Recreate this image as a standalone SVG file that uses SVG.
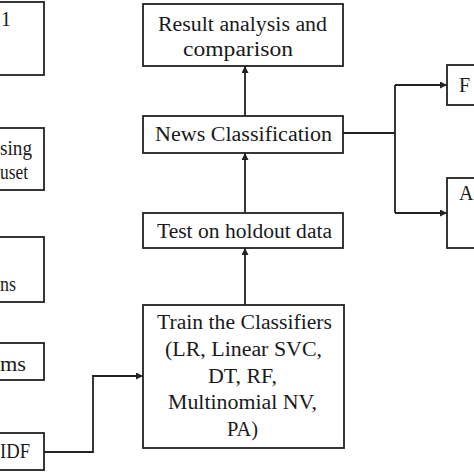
<svg xmlns="http://www.w3.org/2000/svg" width="474" height="474" viewBox="0 0 474 474">
<style>
.box{fill:#fff;stroke:#222;stroke-width:1.8}
.t{font-family:"Liberation Serif","Times New Roman",serif;font-size:20px;fill:#1a1a1a}
.ln{fill:none;stroke:#222;stroke-width:1.8}
</style>
<defs>
<marker id="ah" viewBox="0 0 10 10" refX="10" refY="5" markerWidth="8" markerHeight="7" markerUnits="userSpaceOnUse" orient="auto">
<path d="M0,0 L10,5 L0,10 z" fill="#222"/>
</marker>
</defs>
<rect width="474" height="474" fill="#fff"/>
<g id="left1"><rect class="box" x="-10" y="2" width="54" height="73"/><text class="t" x="1" y="26">1</text></g>
<g id="left2"><rect class="box" x="-10" y="128" width="54" height="62"/><text class="t" x="0" y="155" textLength="32" lengthAdjust="spacingAndGlyphs">sing</text><text class="t" x="0" y="179" textLength="28" lengthAdjust="spacingAndGlyphs">uset</text></g>
<g id="left3"><rect class="box" x="-10" y="237" width="54" height="65"/><text class="t" x="0" y="291" textLength="16" lengthAdjust="spacingAndGlyphs">ns</text></g>
<g id="left4"><rect class="box" x="-10" y="343" width="54" height="37"/><text class="t" x="0" y="371" textLength="26" lengthAdjust="spacingAndGlyphs">ms</text></g>
<g id="left5"><rect class="box" x="-10" y="433" width="54" height="37"/><text class="t" x="0" y="458" textLength="30" lengthAdjust="spacingAndGlyphs">IDF</text></g>
<g id="result"><rect class="box" x="143" y="4" width="200" height="62"/><text class="t" x="158" y="31" textLength="169" lengthAdjust="spacingAndGlyphs">Result analysis and</text><text class="t" x="183" y="56" textLength="110" lengthAdjust="spacingAndGlyphs">comparison</text></g>
<g id="news"><rect class="box" x="143" y="116" width="200" height="37"/><text class="t" x="155" y="141" textLength="177" lengthAdjust="spacingAndGlyphs">News Classification</text></g>
<g id="test"><rect class="box" x="143" y="213" width="200" height="35"/><text class="t" x="157" y="238" textLength="175" lengthAdjust="spacingAndGlyphs">Test on holdout data</text></g>
<g id="train"><rect class="box" x="143" y="305" width="201" height="143"/>
<text class="t" x="157" y="329" textLength="175" lengthAdjust="spacingAndGlyphs">Train the Classifiers</text>
<text class="t" x="165" y="356" textLength="157" lengthAdjust="spacingAndGlyphs">(LR, Linear SVC,</text>
<text class="t" x="208" y="383" textLength="69" lengthAdjust="spacingAndGlyphs">DT, RF,</text>
<text class="t" x="168" y="409" textLength="149" lengthAdjust="spacingAndGlyphs">Multinomial NV,</text>
<text class="t" x="227" y="436" textLength="31" lengthAdjust="spacingAndGlyphs">PA)</text></g>
<g id="rightF"><rect class="box" x="447" y="65" width="40" height="40"/><text class="t" x="459" y="92">F</text></g>
<g id="rightA"><rect class="box" x="447" y="178" width="40" height="70"/><text class="t" x="459" y="200">A</text></g>
<g id="connectors">
<path class="ln" d="M44,452 H93 V376 H143" marker-end="url(#ah)"/>
<path class="ln" d="M245,305 V248" marker-end="url(#ah)"/>
<path class="ln" d="M245,213 V153" marker-end="url(#ah)"/>
<path class="ln" d="M245,116 V66" marker-end="url(#ah)"/>
<path class="ln" d="M343,133 H395"/>
<path class="ln" d="M395,85 V213"/>
<path class="ln" d="M395,85 H447" marker-end="url(#ah)"/>
<path class="ln" d="M395,213 H447" marker-end="url(#ah)"/>
</g>
</svg>
